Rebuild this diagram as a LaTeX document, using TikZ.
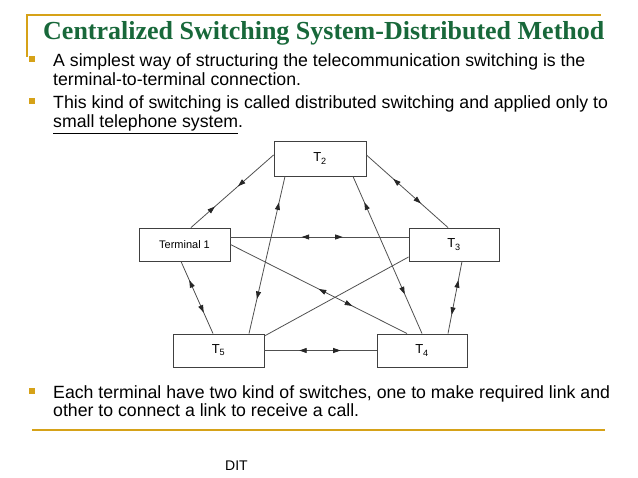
\documentclass[tikz,border=0pt]{standalone}
\usepackage{fontspec}
\setmainfont{Liberation Serif}
\setsansfont{Liberation Sans}
\usepackage{xcolor}
\usetikzlibrary{arrows.meta, decorations.markings}

\definecolor{titlegreen}{RGB}{24,104,58}
\definecolor{gold}{RGB}{214,162,24}
\definecolor{linkgray}{RGB}{80,80,80}

\tikzset{
  term/.style={draw=black!75, line width=0.9pt, minimum width=91pt, minimum height=33pt,
    inner sep=0pt, font=\sffamily\fontsize{11}{12}\selectfont},
  tlabel/.style={term, font=\sffamily\fontsize{13}{14}\selectfont},
  link/.style={draw=linkgray, line width=0.8pt},
  tip fwd/.style={postaction={decorate, decoration={markings,
    mark=at position #1 with {\arrow[black!85]{Triangle[length=7.5pt,width=5pt]}}}}},
  tip back/.style={postaction={decorate, decoration={markings,
    mark=at position #1 with {\arrowreversed[black!85]{Triangle[length=7.5pt,width=5pt]}}}}},
  bodytext/.style={anchor=base west, inner sep=0pt, font=\sffamily\fontsize{17.7}{20}\selectfont}
}

\begin{document}
\begin{tikzpicture}[x=1pt, y=-1pt]
		\useasboundingbox (0,0) rectangle (638,478);

		% Draw the slide frame and title
		\draw[gold, line width=1.3pt] (27,57) -- (27,15) -- (601,15);
		\draw[gold, line width=1.3pt] (32,430) -- (605,430);
		\node[anchor=base west, inner sep=0pt, text=titlegreen, font=\bfseries\fontsize{26}{30}\selectfont] (title) at (43,39.5) {Centralized Switching System-Distributed Method};

		% Bullet points
		\foreach \y in {56,98,388} \fill[gold] (29,\y) rectangle (35,{\y+6});
		\node[bodytext] (intro1) at (53,67) {A simplest way of structuring the telecommunication switching is the};
		\node[bodytext] (intro2) at (53,86) {terminal-to-terminal connection.};
		\node[bodytext] (dist1) at (53,109) {This kind of switching is called distributed switching and applied only to};
		\node[bodytext] (dist2) at (53,128) {\underline{small telephone system}.};
		\node[bodytext] (each1) at (53,399) {Each terminal have two kind of switches, one to make required link and};
		\node[bodytext] (each2) at (53,417) {other to connect a link to receive a call.};

		% Draw the terminals
		\node[term] (t1) at (184.5,244.5) {Terminal 1};
		\node[tlabel, minimum width=92pt, minimum height=35pt] (t2) at (320,158.5) {T\textsubscript{2}};
		\node[tlabel, minimum width=90pt] (t3) at (454,244.5) {T\textsubscript{3}};
		\node[tlabel, minimum width=90pt] (t4) at (422,350.5) {T\textsubscript{4}};
		\node[tlabel] (t5) at (218.5,350.5) {T\textsubscript{5}};

		% Links between terminals
		\draw[link, tip fwd=0.29, tip back=0.57] ([xshift=6.5pt]t1.north) -- ([yshift=3.5pt]t2.west);
		\draw[link, tip back=0.33, tip fwd=0.67] ([yshift=3.5pt]t2.east) -- ([xshift=-6pt]t3.north);
		\draw[link, tip back=0.40, tip fwd=0.63] ([yshift=7.5pt]t1.east) -- ([yshift=7.5pt]t3.west);
		\draw[link, tip back=0.26, tip fwd=0.71] ([xshift=-3.5pt]t1.south) -- ([xshift=-5.5pt]t5.north);
		\draw[link, tip back=0.165, tip fwd=0.78] ([xshift=-35pt]t2.south) -- ([xshift=30.5pt]t5.north);
		\draw[link, tip back=0.165, tip fwd=0.75] ([xshift=33pt]t2.south) -- (t4.north);
		\draw[link, tip back=0.50, tip fwd=0.69] (t1.east) -- ([xshift=-15pt]t4.north);
		\draw[link] ([yshift=-12.5pt]t3.west) -- ([yshift=14.5pt]t5.east);
		\draw[link, tip back=0.26, tip fwd=0.74] ([xshift=8pt]t3.south) -- ([xshift=26pt]t4.north);
		\draw[link, tip back=0.31, tip fwd=0.68] (t5.east) -- (t4.west);

		\node[anchor=base west, inner sep=0pt, font=\sffamily\fontsize{14}{16}\selectfont] (dit) at (225,471) {DIT};
	\end{tikzpicture}
\end{document}
